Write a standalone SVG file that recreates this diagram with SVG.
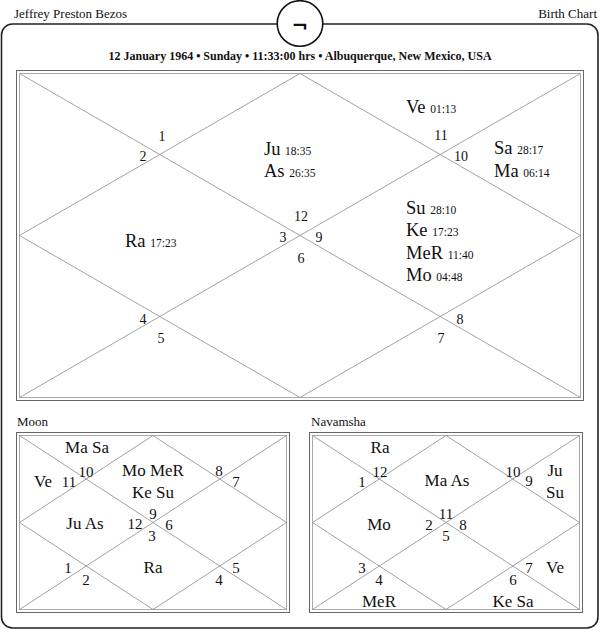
<svg xmlns="http://www.w3.org/2000/svg" width="600" height="630" viewBox="0 0 600 630">
<style>
text{font-family:"Liberation Serif","Times New Roman",serif;fill:#111}
.hd{font-size:13px}
.dt{font-size:12px;font-weight:bold;text-anchor:middle}
.n{font-size:14px;text-anchor:middle}
.p{font-size:18.5px}
.d{font-size:11.5px}
.bn{font-size:15px;text-anchor:middle}
.bp{font-size:17px;text-anchor:middle}
.lbl{font-size:13px}
.ob{fill:none;stroke:#666;stroke-width:1}
.ib{fill:none;stroke:#aaa;stroke-width:1}
.ln{fill:none;stroke:#8a8a8a;stroke-width:0.8}
</style>
<rect width="600" height="630" fill="#fff"/>
<g id="header">
<rect x="1.5" y="24" width="596.5" height="604" rx="11" fill="none" stroke="#222" stroke-width="1.6"/>
<circle cx="300" cy="23.5" r="22.8" fill="#fff" stroke="#111" stroke-width="1.6"/>
<text x="300" y="32" style="font-family:'DejaVu Sans',sans-serif;font-size:20px;font-weight:bold;text-anchor:middle">¬</text>
<text class="hd" x="14" y="18">Jeffrey Preston Bezos</text>
<text class="hd" x="597" y="18" text-anchor="end">Birth Chart</text>
<text class="dt" x="300" y="60">12 January 1964 • Sunday • 11:33:00 hrs • Albuquerque, New Mexico, USA</text>
</g>
<g id="main-chart">
<g id="main-lines">
<rect class="ob" x="16.5" y="70.5" width="567" height="330"/>
<rect class="ib" x="19.5" y="73.5" width="561" height="324"/>
<path class="ln" d="M19.5,73.5 L580.5,397.5 M580.5,73.5 L19.5,397.5 M300,73.5 L580.5,235.5 L300,397.5 L19.5,235.5 Z"/>
</g>
<g id="main-numbers">
<text class="n" x="162" y="141">1</text>
<text class="n" x="143" y="161">2</text>
<text class="n" x="441" y="140">11</text>
<text class="n" x="461" y="161">10</text>
<text class="n" x="301" y="221">12</text>
<text class="n" x="283" y="242">3</text>
<text class="n" x="319" y="242">9</text>
<text class="n" x="301" y="263">6</text>
<text class="n" x="143" y="324">4</text>
<text class="n" x="161" y="343">5</text>
<text class="n" x="460" y="324">8</text>
<text class="n" x="441" y="343">7</text>
</g>
<g id="main-house-1">
<text class="p" x="264" y="155">Ju <tspan class="d">18:35</tspan></text>
<text class="p" x="264" y="177">As <tspan class="d">26:35</tspan></text>
</g>
<g id="main-house-12">
<text class="p" x="406" y="113">Ve <tspan class="d">01:13</tspan></text>
</g>
<g id="main-house-11">
<text class="p" x="494" y="154">Sa <tspan class="d">28:17</tspan></text>
<text class="p" x="494" y="177">Ma <tspan class="d">06:14</tspan></text>
</g>
<g id="main-house-10">
<text class="p" x="406" y="214">Su <tspan class="d">28:10</tspan></text>
<text class="p" x="406" y="236">Ke <tspan class="d">17:23</tspan></text>
<text class="p" x="406" y="258.5">MeR <tspan class="d">11:40</tspan></text>
<text class="p" x="406" y="281">Mo <tspan class="d">04:48</tspan></text>
</g>
<g id="main-house-4">
<text class="p" x="125" y="247">Ra <tspan class="d">17:23</tspan></text>
</g>
</g>
<g id="moon-chart">
<text class="lbl" x="17" y="426">Moon</text>
<g id="moon-lines">
<rect class="ob" x="16.5" y="432.5" width="273" height="180"/>
<rect class="ib" x="19.5" y="435.5" width="267" height="174"/>
<path class="ln" d="M19.5,435.5 L286.5,609.5 M286.5,435.5 L19.5,609.5 M153,435.5 L286.5,522.5 L153,609.5 L19.5,522.5 Z"/>
</g>
<g id="moon-numbers">
<text class="bn" x="86" y="477">10</text>
<text class="bn" x="69" y="487">11</text>
<text class="bn" x="219" y="476">8</text>
<text class="bn" x="236" y="487">7</text>
<text class="bn" x="153" y="519">9</text>
<text class="bn" x="135" y="529">12</text>
<text class="bn" x="169" y="530">6</text>
<text class="bn" x="152" y="541">3</text>
<text class="bn" x="68" y="573">1</text>
<text class="bn" x="86" y="585">2</text>
<text class="bn" x="219" y="585">4</text>
<text class="bn" x="236" y="573">5</text>
</g>
<g id="moon-planets">
<text class="bp" x="87" y="453">Ma Sa</text>
<text class="bp" x="43" y="487">Ve</text>
<text class="bp" x="153" y="476">Mo MeR</text>
<text class="bp" x="153" y="498">Ke Su</text>
<text class="bp" x="85" y="529">Ju As</text>
<text class="bp" x="153" y="573">Ra</text>
</g>
</g>
<g id="navamsha-chart">
<text class="lbl" x="311" y="426">Navamsha</text>
<g id="navamsha-lines">
<rect class="ob" x="309.5" y="432.5" width="273" height="180"/>
<rect class="ib" x="312.5" y="435.5" width="267" height="174"/>
<path class="ln" d="M312.5,435.5 L579.5,609.5 M579.5,435.5 L312.5,609.5 M446,435.5 L579.5,522.5 L446,609.5 L312.5,522.5 Z"/>
</g>
<g id="navamsha-numbers">
<text class="bn" x="380" y="477">12</text>
<text class="bn" x="362" y="487">1</text>
<text class="bn" x="513" y="477">10</text>
<text class="bn" x="529" y="486">9</text>
<text class="bn" x="446" y="519">11</text>
<text class="bn" x="429" y="530">2</text>
<text class="bn" x="463" y="530">8</text>
<text class="bn" x="446" y="541">5</text>
<text class="bn" x="362" y="573">3</text>
<text class="bn" x="379" y="585">4</text>
<text class="bn" x="529" y="573">7</text>
<text class="bn" x="513" y="585">6</text>
</g>
<g id="navamsha-planets">
<text class="bp" x="380" y="453">Ra</text>
<text class="bp" x="447" y="486">Ma As</text>
<text class="bp" x="555" y="476">Ju</text>
<text class="bp" x="555" y="498">Su</text>
<text class="bp" x="379" y="530">Mo</text>
<text class="bp" x="555" y="573">Ve</text>
<text class="bp" x="379" y="607">MeR</text>
<text class="bp" x="513" y="607">Ke Sa</text>
</g>
</g>
</svg>
